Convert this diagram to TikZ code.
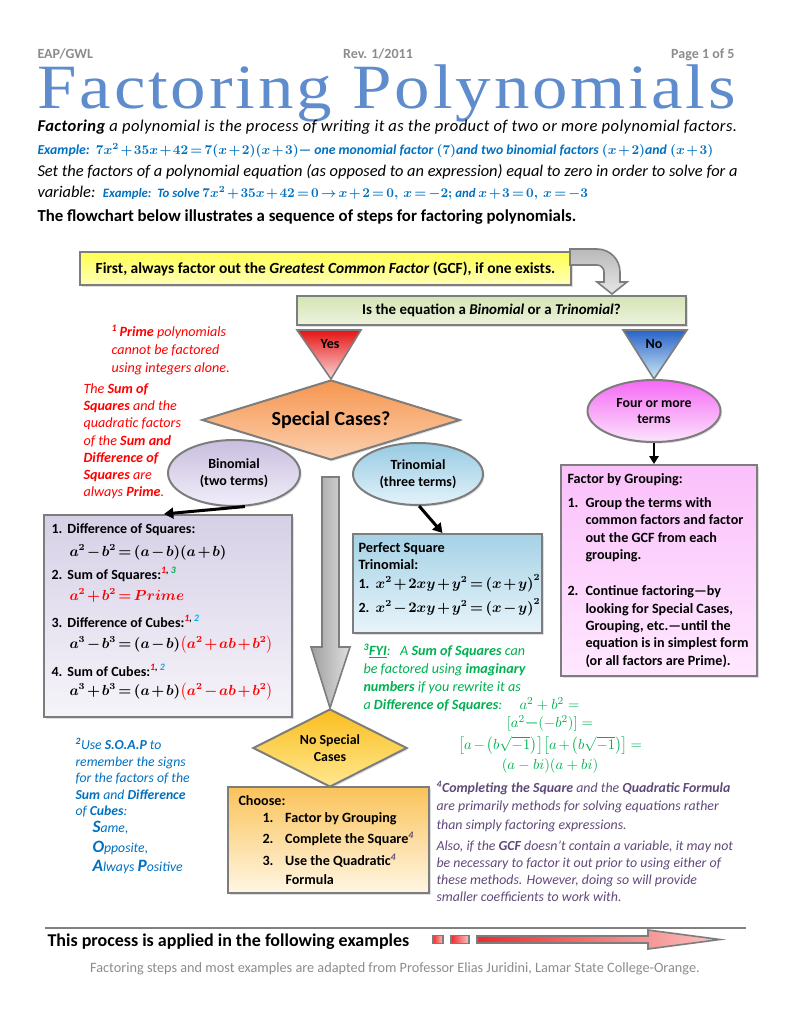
\documentclass[tikz,border=0pt]{standalone}
\usepackage{fontspec}
\setmainfont{Carlito}
\newfontfamily\titlefont{Liberation Serif}[LetterSpace=4]
\usepackage{amsmath,bm,graphicx}
\usetikzlibrary{shapes.geometric,arrows.meta,calc,shadows,positioning}

\definecolor{exblue}{RGB}{0,112,192}
\definecolor{notered}{RGB}{255,0,0}
\definecolor{fyigreen}{RGB}{0,176,80}
\definecolor{supblue}{RGB}{0,176,240}
\definecolor{notepurple}{RGB}{96,73,122}
\definecolor{hdrgray}{RGB}{140,140,140}
\definecolor{titleblue}{RGB}{95,140,205}
\definecolor{edgegray}{RGB}{125,125,125}

\def\upx{0.75pt}
\newcommand\fsz[2]{\fontsize{#1}{#2}\selectfont}
\newcommand\tightmath{\medmuskip=2mu\thickmuskip=3mu}

\tikzset{every picture/.style={line width=0.75pt}}
\tikzset{
  chartbox/.style={draw=edgegray, line width=1.5pt, inner sep=0pt, align=center,
    font=\bfseries\fsz{10.5}{12.5},
    drop shadow={shadow xshift=1.2pt, shadow yshift=-1.2pt, opacity=0.25}},
  bubble/.style={chartbox, ellipse},
  ln/.style={anchor=base west, inner sep=0pt},
  notetxt/.style={anchor=base west, inner sep=0pt, align=left},
  fatarrow/.style={line width=2.25pt, -{Triangle[length=7pt,width=8pt]}},
  yesshade/.style={draw=edgegray, line width=1.2pt, top color={rgb,255:red,230;green,20;blue,20}, bottom color={rgb,255:red,250;green,215;blue,215}},
  noshade/.style={draw=edgegray, line width=1.2pt, top color={rgb,255:red,40;green,100;blue,200}, bottom color={rgb,255:red,205;green,232;blue,245}},
  grayarrow/.style={draw=edgegray, line width=1.2pt, left color=gray!75, right color=gray!25},
  bendarrow/.style={draw=edgegray, line width=1.2pt, top color=gray!55, bottom color=gray!20},
  redarrow/.style={draw=edgegray, line width=1.2pt, left color={rgb,255:red,235;green,45;blue,45}, right color={rgb,255:red,250;green,195;blue,195}}
}

\begin{document}
\begin{tikzpicture}[x=0.75pt,y=0.75pt,yscale=-1,xscale=1]
\useasboundingbox (0,0) rectangle (791,1024);

% Header
\node[ln, font=\bfseries\fsz{10.5}{12}, text=hdrgray] (eap) at (37,59) {EAP/GWL};
\node[anchor=base, inner sep=0pt, font=\bfseries\fsz{10.5}{12}, text=hdrgray] (rev) at (378,59) {Rev. 1/2011};
\node[anchor=base east, inner sep=0pt, font=\bfseries\fsz{10.5}{12}, text=hdrgray] (pg) at (735,59) {Page 1 of 5};

% Title
\node[anchor=north west, inner sep=0pt, text=titleblue] (ttl) at (37,64) {\resizebox*{523.5pt}{43pt}{\titlefont Factoring Polynomials}};

% Text Node
\node[ln, font=\itshape\fsz{12.4}{14}\addfontfeatures{LetterSpace=2.5}] (p1) at (37,132) {\textbf{Factoring} a polynomial is the process of writing it as the product of two or more polynomial factors.};
\node[ln, font=\bfseries\itshape\fsz{10.3}{13}\tightmath, text=exblue] (p2) at (37,154) {Example:\ \ $\bm{7x^2+35x+42=7(x+2)(x+3)}$— one monomial factor $\bm{(7)}$and two binomial factors $\bm{(x+2)}$and $\bm{(x+3)}$};
\node[ln, font=\itshape\fsz{12.3}{14}] (p3) at (37,176) {Set the factors of a polynomial equation (as opposed to an expression) equal to zero in order to solve for a};
\node[ln, font=\itshape\fsz{12.3}{14}] (p4) at (37,197) {variable:\ \ {\fsz{9.6}{13}\tightmath\color{exblue}\bfseries Example:\ \ To solve $\bm{7x^2+35x+42=0\rightarrow x+2=0,\ x=-2;}$ and $\bm{x+3=0,\ x=-3}$}};
\node[ln, font=\bfseries\fsz{12.6}{15}] (p5) at (37,221) {The flowchart below illustrates a sequence of steps for factoring polynomials.};

% Flowchart boxes
\node[chartbox, minimum width=491*\upx, minimum height=33*\upx, font=\bfseries\fsz{11.6}{13}, top color={rgb,255:red,255;green,255;blue,80}, bottom color={rgb,255:red,255;green,255;blue,185}] (gcf) at (325.5,268.5) {First, always factor out the \textit{Greatest Common Factor} (GCF), if one exists.};
\node[chartbox, minimum width=389*\upx, minimum height=29*\upx, font=\bfseries\fsz{11.2}{13}, top color={rgb,255:red,212;green,228;blue,180}, bottom color={rgb,255:red,236;green,243;blue,220}] (q) at (491.5,310.5) {Is the equation a \textit{Binomial} or a \textit{Trinomial}?};

\node[chartbox, diamond, aspect=3.2, minimum width=258*\upx, minimum height=80*\upx, font=\bfseries\fsz{15}{17}, top color={rgb,255:red,246;green,150;blue,80}, bottom color={rgb,255:red,251;green,208;blue,175}] (sc) at (331,420) {Special Cases?};
\node[bubble, minimum width=132*\upx, minimum height=66*\upx, top color={rgb,255:red,200;green,190;blue,222}, bottom color={rgb,255:red,242;green,238;blue,250}] (bin) at (234,473) {Binomial\\(two terms)};
\node[bubble, minimum width=130*\upx, minimum height=62*\upx, top color={rgb,255:red,150;green,202;blue,226}, bottom color={rgb,255:red,228;green,243;blue,250}] (tri) at (418,474) {Trinomial\\(three terms)};
\node[bubble, minimum width=133*\upx, minimum height=62*\upx, font=\bfseries\fsz{10.4}{12.5}, top color={rgb,255:red,245;green,105;blue,245}, bottom color={rgb,255:red,252;green,228;blue,252}] (four) at (654,411) {Four or more\\terms};

\node[chartbox, minimum width=248*\upx, minimum height=202*\upx, top color={rgb,255:red,214;green,208;blue,230}, bottom color={rgb,255:red,246;green,244;blue,250}] (sq) at (168,616) {};
\node[chartbox, minimum width=189*\upx, minimum height=99*\upx, top color={rgb,255:red,165;green,210;blue,230}, bottom color={rgb,255:red,232;green,244;blue,250}] (psq) at (447.5,583.5) {};
\node[chartbox, minimum width=196*\upx, minimum height=211*\upx, top color={rgb,255:red,250;green,192;blue,250}, bottom color={rgb,255:red,255;green,232;blue,255}] (grp) at (659,570.5) {};

\node[chartbox, diamond, aspect=2, minimum width=154*\upx, minimum height=78*\upx, font=\bfseries\fsz{10.4}{12.5}, top color={rgb,255:red,250;green,190;blue,30}, bottom color={rgb,255:red,255;green,232;blue,145}] (nsc) at (330,748) {No Special\\Cases};
\node[chartbox, minimum width=201*\upx, minimum height=106*\upx, top color={rgb,255:red,250;green,195;blue,90}, bottom color={rgb,255:red,255;green,246;blue,228}] (chs) at (328.5,840) {};

% Big arrow down
\path[grayarrow] ($(nsc.north)+(-8,-231)$) -- ($(nsc.north)+(9,-231)$) -- ($(nsc.north)+(9,-61)$) -- ($(nsc.north)+(20,-61)$) -- (nsc.north) -- ($(nsc.north)+(-19,-61)$) -- ($(nsc.north)+(-8,-61)$) -- cycle;

% Bent arrow
\path[bendarrow] ($(gcf.north east)+(-2,-2)$) -- ++(27,0) arc[start angle=-90, end angle=0, radius=23] -- ++(0,10) -- ++(7,0) -- ++(-15,12) -- ++(-15,-12) -- ++(7,0) -- ++(0,-10) arc[start angle=0, end angle=-90, radius=7] -- ++(-27,0) -- cycle;

% Yes / No
\path[yesshade] ($(q.south west)+(1,4)$) -- ($(q.south west)+(65,4)$) -- (sc.north) -- cycle;
\path[noshade] ($(q.south east)+(-64,4)$) -- ($(q.south east)+(0,4)$) -- (four.north) -- cycle;
\node[anchor=base, inner sep=0pt, font=\bfseries\fsz{10.5}{12}] (yes) at (330,348) {Yes};
\node[anchor=base, inner sep=0pt, font=\bfseries\fsz{10.5}{12}] (no) at (654,348) {No};

% Connection
\draw[fatarrow] (bin.-72) -- ($(sq.north)+(-4,0)$);
\draw[fatarrow] (tri.-88) -- ($(psq.north)+(-5,0)$);
\draw[line width=1.5pt, -{Triangle[length=6pt,width=7pt]}] (four.south) -- (four.south |- grp.north);

% Special cases text
\node[ln, font=\bfseries\fsz{10.5}{12}] (d1) at (51,533) {\makebox[12pt][l]{1.}Difference of Squares:};
\node[ln, font=\fsz{10.5}{13}\tightmath] (m1) at (69,556) {$\bm{a^2-b^2=(a-b)(a+b)}$};
\node[ln, font=\bfseries\fsz{10.5}{12}] (d2) at (51,579) {\makebox[12pt][l]{2.}Sum of Squares:\textsuperscript{\itshape\textcolor{notered}{1}, \textcolor{fyigreen}{3}}};
\node[ln, font=\fsz{10.5}{13}\tightmath, text=notered] (m2) at (69,600) {$\bm{a^2+b^2=Prime}$};
\node[ln, font=\bfseries\fsz{10.5}{12}] (d3) at (51,627) {\makebox[12pt][l]{3.}Difference of Cubes:\textsuperscript{\itshape\textcolor{notered}{1}, \textcolor{supblue}{2}}};
\node[ln, font=\fsz{10.5}{13}\tightmath] (m3) at (69,648) {$\bm{a^3-b^3=(a-b)}\textcolor{notered}{\bm{\bigl(a^2+ab+b^2\bigr)}}$};
\node[ln, font=\bfseries\fsz{10.5}{12}] (d4) at (51,676) {\makebox[12pt][l]{4.}Sum of Cubes:\textsuperscript{\itshape\textcolor{notered}{1}, \textcolor{supblue}{2}}};
\node[ln, font=\fsz{10.5}{13}\tightmath] (m4) at (69,695) {$\bm{a^3+b^3=(a+b)}\textcolor{notered}{\bm{\bigl(a^2-ab+b^2\bigr)}}$};

% Perfect square text
\node[notetxt, font=\bfseries\fsz{10.7}{13}] (pst) at (358,569.8) {Perfect Square\\Trinomial:};
\node[ln, font=\bfseries\fsz{10.5}{13}\tightmath] (ps1) at (358,588) {1.\ \ $\bm{x^2+2xy+y^2=(x+y)^2}$};
\node[ln, font=\bfseries\fsz{10.5}{13}\tightmath] (ps2) at (358,612) {2.\ \ $\bm{x^2-2xy+y^2=(x-y)^2}$};

% Grouping text
\node[ln, font=\bfseries\fsz{10.6}{12}] (gt) at (567,483.5) {Factor by Grouping:};
\node[ln, font=\bfseries\fsz{10.6}{12}] (g1n) at (567,507.5) {1.};
\node[notetxt, font=\bfseries\fsz{10.6}{13.1}] (g1) at (585,559.9) {Group the terms with\\common factors and factor\\out the GCF from each\\grouping.};
\node[ln, font=\bfseries\fsz{10.6}{12}] (g2n) at (567,595.5) {2.};
\node[notetxt, font=\bfseries\fsz{10.6}{13.1}] (g2) at (585,665.4) {Continue factoring—by\\looking for Special Cases,\\Grouping, etc.—until the\\equation is in simplest form\\(or all factors are Prime).};

% Choose text
\node[ln, font=\bfseries\fsz{10.6}{12}] (ct) at (238,805.5) {Choose:};
\node[ln, font=\bfseries\fsz{10.6}{12}] (c1) at (262,822.5) {\makebox[17pt][l]{1.}Factor by Grouping};
\node[ln, font=\bfseries\fsz{10.6}{12}] (c2) at (262,843.5) {\makebox[17pt][l]{2.}Complete the Square\textsuperscript{\itshape\textcolor{notepurple}{4}}};
\node[ln, font=\bfseries\fsz{10.6}{12}] (c3) at (262,865.5) {\makebox[17pt][l]{3.}Use the Quadratic\textsuperscript{\itshape\textcolor{notepurple}{4}}};
\node[ln, font=\bfseries\fsz{10.6}{12}] (c3b) at (285,884.5) {Formula};

% Notes
\node[notetxt, font=\itshape\fsz{10.6}{13.5}, text=notered] (nprime) at (111,372.5) {\textsuperscript{\bfseries 1}\,\textbf{Prime} polynomials\\cannot be factored\\using integers alone.};
\node[notetxt, font=\itshape\fsz{10.6}{12.9}, text=notered] (nsum) at (83,496.7) {The \textbf{Sum of}\\\textbf{Squares} and the\\quadratic factors\\of the \textbf{Sum and}\\\textbf{Difference of}\\\textbf{Squares} are\\always \textbf{Prime}.};
\node[notetxt, font=\itshape\fsz{10.6}{13.5}, text=fyigreen] (nfyi) at (363,709.5) {\textsuperscript{\bfseries 3}\underline{\textbf{FYI}}:\ \ \ A \textbf{Sum of Squares} can\\be factored using \textbf{imaginary}\\\textbf{numbers} if you rewrite it as\\a \textbf{Difference of Squares}:};
\node[ln, font=\fsz{11}{13}, text=fyigreen] (f1) at (519,709.5) {$a^2+b^2=$};
\node[anchor=base, inner sep=0pt, font=\fsz{11}{13}, text=fyigreen] (f2) at (550,727.5) {$[a^2\text{—}(-b^2)]=$};
\node[anchor=base, inner sep=0pt, font=\fsz{11}{13}\tightmath, text=fyigreen] (f3) at (550,749) {$\bigl[a-\bigl(b\sqrt{-1}\bigr)\bigr]\bigl[a+\bigl(b\sqrt{-1}\bigr)\bigr]=$};
\node[anchor=base, inner sep=0pt, font=\fsz{11}{13}, text=fyigreen] (f4) at (550,769.5) {$(a-bi)(a+bi)$};

\node[notetxt, font=\itshape\fsz{10.3}{12.4}, text=exblue] (nsoap) at (75,815.6) {\textsuperscript{\bfseries 2}Use \textbf{S.O.A.P} to\\remember the signs\\for the factors of the\\\textbf{Sum} and \textbf{Difference}\\of \textbf{Cubes}:};
\node[ln, font=\itshape\fsz{10.3}{12}, text=exblue] (s1) at (92,832) {{\fsz{13}{13}\bfseries S}ame,};
\node[ln, font=\itshape\fsz{10.3}{12}, text=exblue] (s2) at (92,852) {{\fsz{13}{13}\bfseries O}pposite,};
\node[ln, font=\itshape\fsz{10.3}{12}, text=exblue] (s3) at (92,871) {{\fsz{13}{13}\bfseries A}lways {\fsz{13}{13}\bfseries P}ositive};

\node[notetxt, font=\itshape\fsz{10.4}{13.7}, text=notepurple] (nq1) at (436,829) {\textsuperscript{\bfseries 4}\textbf{Completing the Square} and the \textbf{Quadratic Formula}\\are primarily methods for solving equations rather\\than simply factoring expressions.};
\node[notetxt, font=\itshape\fsz{10.4}{12.8}, text=notepurple] (nq2) at (436,901.7) {Also, if the \textbf{GCF} doesn’t contain a variable, it may not\\be necessary to factor it out prior to using either of\\these methods. However, doing so will provide\\smaller coefficients to work with.};

% Bottom
\coordinate (rl) at (45,928);
\coordinate (rr) at (746,928);
\draw[draw=gray, line width=0.9pt] (rl) -- (rr);
\node[ln, font=\bfseries\fsz{13.5}{15}] (apply) at (47,946) {This process is applied in the following examples};
\path[redarrow] (433,935.5) rectangle (443,943.5);
\path[redarrow] (451,935.5) rectangle (469,943.5);
\path[redarrow] (477,936) -- (648,936) -- (648,930) -- (720,939.5) -- (648,949) -- (648,943) -- (477,943) -- cycle;
\node[anchor=base, inner sep=0pt, font=\fsz{10.7}{12}, text=hdrgray] (foot) at (395,972) {Factoring steps and most examples are adapted from Professor Elias Juridini, Lamar State College-Orange.};

\end{tikzpicture}
\end{document}
